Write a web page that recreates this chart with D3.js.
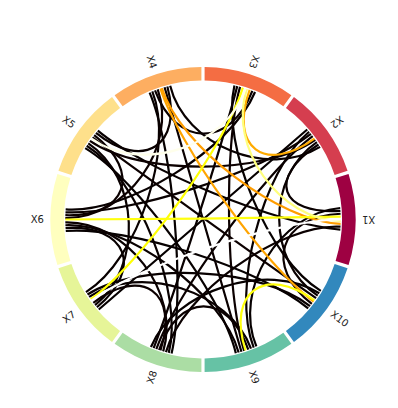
<!DOCTYPE html>
<html>
<head>
<meta charset="utf-8">
<script src="https://cdn.jsdelivr.net/npm/d3@7"></script>
<style>
  body { margin: 0; background: #fff; }
  svg { display: block; }
  text { font-family: "DejaVu Sans", sans-serif; }
</style>
</head>
<body>
<div id="chart"></div>
<script>
// nodes round the circle, counter-clockwise from the right
const nodeNames = ["X1", "X2", "X3", "X4", "X5", "X6", "X7", "X8", "X9", "X10"];
const nodeColors = d3.schemeSpectral[11].slice(0, 10);

// every pair of nodes, with its connection strength (0..1)
const linkSource = [
  "X1", "X1", "X1", "X1", "X1", "X1", "X1", "X1", "X1",
  "X2", "X2", "X2", "X2", "X2", "X2", "X2", "X2",
  "X3", "X3", "X3", "X3", "X3", "X3", "X3",
  "X4", "X4", "X4", "X4", "X4", "X4",
  "X5", "X5", "X5", "X5", "X5",
  "X6", "X6", "X6", "X6",
  "X7", "X7", "X7",
  "X8", "X8",
  "X9"
];
const linkTarget = [
  "X2", "X3", "X4", "X5", "X6", "X7", "X8", "X9", "X10",
  "X3", "X4", "X5", "X6", "X7", "X8", "X9", "X10",
  "X4", "X5", "X6", "X7", "X8", "X9", "X10",
  "X5", "X6", "X7", "X8", "X9", "X10",
  "X6", "X7", "X8", "X9", "X10",
  "X7", "X8", "X9", "X10",
  "X8", "X9", "X10",
  "X9", "X10",
  "X10"
];
const linkStrength = [
  0.006, 0.87, 0.60, 0.004, 0.76, 1.00, 0.008, 0.002, 0.010,
  0.62, 0.004, 0.010, 0.006, 0.002, 0.008, 0.004, 0.006,
  0.008, 0.98, 0.004, 0.75, 0.006, 0.010, 0.002,
  0.006, 0.010, 0.004, 0.002, 0.008, 0.61,
  0.008, 0.006, 0.004, 0.002, 0.010,
  0.004, 0.008, 0.006, 0.002,
  0.010, 0.006, 0.004,
  0.008, 0.002,
  0.76
];

const width = 398, height = 408;
const cx = 203, cy = 219.5;

const svg = d3.select("#chart").append("svg")
  .attr("width", width)
  .attr("height", height);

const angle = d3.scalePoint()
  .domain(nodeNames)
  .range([0, 2 * Math.PI * (nodeNames.length - 1) / nodeNames.length]);
const radius = d3.scaleLinear().domain([0, 10]).range([0, 153]);

// matplotlib "hot"
const hot = d3.scaleLinear()
  .domain([0, 0.365079, 0.746032, 1])
  .range(["#050000", "#ff0000", "#ffff00", "#ffffff"]);

const xy = (t, r) => [cx + radius(r) * Math.cos(t), cy - radius(r) * Math.sin(t)];

const g = svg.append("g");

// links, weakest first; spread their ends inside each node slot
const links = linkSource.map((s, i) => ({ source: s, target: linkTarget[i], value: linkStrength[i] }))
  .sort((a, b) => a.value - b.value);

const nodeWidth = 2 * Math.PI / nodeNames.length;
const spread = 0.25 * nodeWidth * 0.6;
const nCon = {}, seen = {};
nodeNames.forEach(n => { nCon[n] = 0; seen[n] = 0; });
links.forEach(l => { nCon[l.source]++; nCon[l.target]++; });
links.forEach(l => {
  ["source", "target"].forEach(end => {
    const n = l[end];
    seen[n]++;
    const sign = seen[n] % 2 ? 1 : -1;
    l[end + "Off"] = sign * spread * (nCon[n] - seen[n]) / nCon[n];
  });
});

g.selectAll("path.link")
  .data(links)
  .join("path")
  .attr("class", "link")
  .attr("fill", "none")
  .attr("stroke", d => hot(d.value))
  .attr("stroke-width", 2.2)
  .attr("d", d => {
    const t0 = angle(d.source) + d.sourceOff;
    const t1 = angle(d.target) + d.targetOff;
    const p = d3.path();
    p.moveTo(...xy(t0, 9));
    p.bezierCurveTo(...xy(t0, 5), ...xy(t1, 5), ...xy(t1, 9));
    return p.toString();
  });

// coloured ring
const arc = d3.arc()
  .innerRadius(radius(9.08))
  .outerRadius(radius(9.97))
  .padAngle(0.022)
  .padRadius(145);

g.selectAll("path.node")
  .data(nodeNames)
  .join("path")
  .attr("class", "node")
  .attr("transform", `translate(${cx},${cy})`)
  .attr("fill", (d, i) => nodeColors[i])
  .attr("d", d => arc({
    startAngle: Math.PI / 2 - angle(d) - nodeWidth / 2,
    endAngle: Math.PI / 2 - angle(d) + nodeWidth / 2
  }));

// labels, kept upright like matplotlib's polar text
g.selectAll("text.label")
  .data(nodeNames)
  .join("text")
  .attr("class", "label")
  .each(function (d) {
    const t = angle(d);
    let deg = t * 180 / Math.PI;
    let anchor = "start";
    if (deg < 270) { deg += 180; anchor = "end"; }
    const [x, y] = xy(t, 10.4);
    d3.select(this)
      .attr("transform", `translate(${x},${y}) rotate(${-deg})`)
      .attr("text-anchor", anchor);
  })
  .attr("dominant-baseline", "central")
  .attr("font-size", "10px")
  .attr("fill", "#222")
  .text(d => d);
</script>
</body>
</html>
